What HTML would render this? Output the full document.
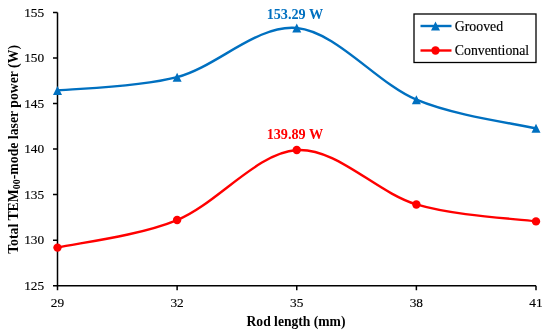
<!DOCTYPE html>
<html><head><meta charset="utf-8"><style>
html,body{margin:0;padding:0;background:#fff;}
body{width:550px;height:335px;overflow:hidden;}
svg{display:block;}
.t{font-family:"Liberation Serif","Times New Roman",serif;font-size:13.33px;fill:#000;stroke:#000;stroke-width:0.15px;}
.b{font-family:"Liberation Serif","Times New Roman",serif;font-size:13.60px;font-weight:bold;fill:#000;}
.l{font-family:"Liberation Serif","Times New Roman",serif;font-size:14.20px;font-weight:bold;}
</style></head><body>
<svg width="550" height="335" viewBox="0 0 550 335">
<rect width="550" height="335" fill="#fff"/>
<path d="M57.50,12.40 V285.70 H536.00" fill="none" stroke="#000" stroke-width="1.50"/>
<path d="M53.00,12.40 H57.50 M53.00,57.95 H57.50 M53.00,103.50 H57.50 M53.00,149.05 H57.50 M53.00,194.60 H57.50 M53.00,240.15 H57.50 M53.00,285.70 H57.50 M57.50,285.70 V290.20 M177.12,285.70 V290.20 M296.75,285.70 V290.20 M416.38,285.70 V290.20 M536.00,285.70 V290.20" fill="none" stroke="#000" stroke-width="1.50"/>
<text x="44.20" y="16.70" text-anchor="end" class="t">155</text>
<text x="44.20" y="62.25" text-anchor="end" class="t">150</text>
<text x="44.20" y="107.80" text-anchor="end" class="t">145</text>
<text x="44.20" y="153.35" text-anchor="end" class="t">140</text>
<text x="44.20" y="198.90" text-anchor="end" class="t">135</text>
<text x="44.20" y="244.45" text-anchor="end" class="t">130</text>
<text x="44.20" y="290.00" text-anchor="end" class="t">125</text>
<text x="57.50" y="307.00" text-anchor="middle" class="t">29</text>
<text x="177.12" y="307.00" text-anchor="middle" class="t">32</text>
<text x="296.75" y="307.00" text-anchor="middle" class="t">35</text>
<text x="416.38" y="307.00" text-anchor="middle" class="t">38</text>
<text x="536.00" y="307.00" text-anchor="middle" class="t">41</text>
<text x="296.00" y="326.30" text-anchor="middle" class="b">Rod length (mm)</text>
<text transform="translate(18.00,149.40) rotate(-90)" text-anchor="middle" class="b" style="font-size:13.75px">Total TEM<tspan font-size="10" dy="2">00</tspan><tspan dy="-2">-mode laser power (W)</tspan></text>
<path d="M57.50,90.56 C77.44,88.33 137.25,87.60 177.12,77.17 C217.00,66.74 256.88,24.23 296.75,27.98 C336.62,31.73 376.50,82.94 416.38,99.67 C456.25,116.41 516.06,123.59 536.00,128.37" fill="none" stroke="#0070C0" stroke-width="2.40" stroke-linecap="round"/>
<path d="M57.50,247.62 C77.44,243.02 137.25,236.28 177.12,220.02 C217.00,203.76 256.88,152.65 296.75,150.05 C336.62,147.46 376.50,192.55 416.38,204.44 C456.25,216.33 516.06,218.56 536.00,221.38" fill="none" stroke="#FF0000" stroke-width="2.40" stroke-linecap="round"/>
<polygon points="57.50,86.06 62.00,95.06 53.00,95.06" fill="#0070C0"/>
<polygon points="177.12,72.67 181.62,81.67 172.62,81.67" fill="#0070C0"/>
<polygon points="296.75,23.48 301.25,32.48 292.25,32.48" fill="#0070C0"/>
<polygon points="416.38,95.17 420.88,104.17 411.88,104.17" fill="#0070C0"/>
<polygon points="536.00,123.87 540.50,132.87 531.50,132.87" fill="#0070C0"/>
<circle cx="57.50" cy="247.62" r="4.20" fill="#FF0000"/>
<circle cx="177.12" cy="220.02" r="4.20" fill="#FF0000"/>
<circle cx="296.75" cy="150.05" r="4.20" fill="#FF0000"/>
<circle cx="416.38" cy="204.44" r="4.20" fill="#FF0000"/>
<circle cx="536.00" cy="221.38" r="4.20" fill="#FF0000"/>
<text x="294.90" y="18.90" text-anchor="middle" class="l" fill="#0070C0">153.29 W</text>
<text x="294.90" y="139.40" text-anchor="middle" class="l" fill="#FF0000">139.89 W</text>
<rect x="414" y="14" width="122" height="48.5" fill="#fff" stroke="#000" stroke-width="1.3"/>
<path d="M420.5,26 H451.5" stroke="#0070C0" stroke-width="2.40"/>
<polygon points="435.50,21.50 440.00,30.50 431.00,30.50" fill="#0070C0"/>
<text x="454.8" y="30.9" class="t" style="font-size:13.80px">Grooved</text>
<path d="M420.5,50.5 H451.5" stroke="#FF0000" stroke-width="2.40"/>
<circle cx="435.50" cy="50.50" r="4.20" fill="#FF0000"/>
<text x="454.8" y="54.9" class="t" style="font-size:13.80px">Conventional</text>
</svg>
</body></html>
